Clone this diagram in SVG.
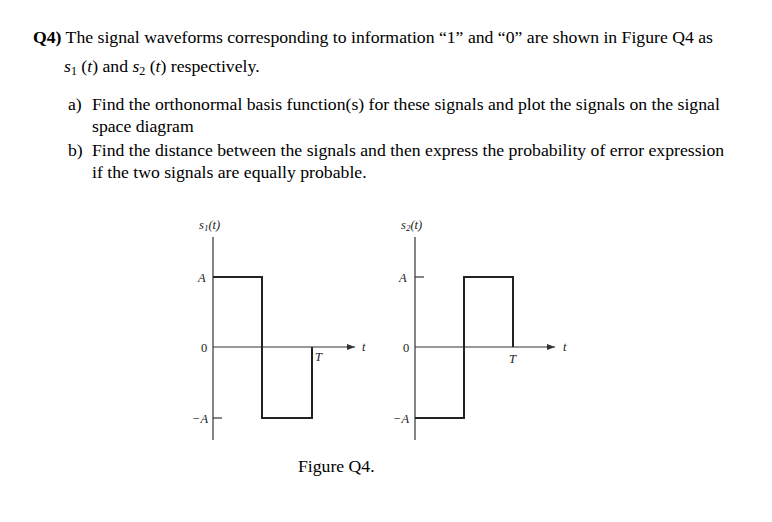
<svg xmlns="http://www.w3.org/2000/svg" width="772" height="522" viewBox="0 0 772 522">
<style>
.t{font-family:"Liberation Serif",serif;font-size:17.7px;fill:#000}
.s{font-family:"Liberation Serif",serif;font-size:12.5px;fill:#222}
.i{font-style:italic}
.ax{stroke:#333;stroke-width:1.2;fill:none}
.w{stroke:#222;stroke-width:2;fill:none}
</style>
<defs><marker id="ar" markerWidth="8" markerHeight="6" refX="8" refY="3" orient="auto" markerUnits="userSpaceOnUse"><path d="M0,0L8,3L0,6z" fill="#333"/></marker></defs>
<rect width="772" height="522" fill="#fff"/>
<g id="text">
<text class="t" x="33" y="43"><tspan font-weight="bold">Q4)</tspan> The signal waveforms corresponding to information “1” and “0” are shown in Figure Q4 as</text>
<text class="t" x="64" y="72"><tspan class="i">s</tspan><tspan font-size="12" dy="3">1</tspan><tspan dy="-3"> (</tspan><tspan class="i">t</tspan>) and <tspan class="i">s</tspan><tspan font-size="12" dy="3">2</tspan><tspan dy="-3"> (</tspan><tspan class="i">t</tspan>) respectively.</text>
<text class="t" x="68" y="110">a)</text>
<text class="t" x="92" y="110">Find the orthonormal basis function(s) for these signals and plot the signals on the signal</text>
<text class="t" x="92" y="132">space diagram</text>
<text class="t" x="68" y="156">b)</text>
<text class="t" x="92" y="156">Find the distance between the signals and then express the probability of error expression</text>
<text class="t" x="92" y="178">if the two signals are equally probable.</text>
<text class="t" x="298" y="472">Figure Q4.</text>
</g>
<g id="plot1">
<line class="ax" x1="213" y1="237" x2="213" y2="440"/>
<line class="ax" x1="213" y1="347" x2="355" y2="347" marker-end="url(#ar)"/>
<line class="ax" x1="213" y1="418" x2="222" y2="418"/>
<polyline class="w" points="213,277 262,277 262,418 312,418 312,347"/>
<text class="s i" x="199" y="229">s<tspan font-size="9" dy="2">1</tspan><tspan dy="-2">(t)</tspan></text>
<text class="s i" x="198" y="282">A</text>
<text class="s" x="201" y="352">0</text>
<text class="s i" x="192" y="423">−A</text>
<text class="s i" x="315" y="361">T</text>
<text class="s i" x="362" y="351">t</text>
</g>
<g id="plot2">
<line class="ax" x1="415" y1="237" x2="415" y2="440"/>
<line class="ax" x1="415" y1="347" x2="555" y2="347" marker-end="url(#ar)"/>
<line class="ax" x1="415" y1="277" x2="424" y2="277"/>
<polyline class="w" points="415,418 464,418 464,277 513,277 513,347"/>
<text class="s i" x="401" y="229">s<tspan font-size="9" dy="2">2</tspan><tspan dy="-2">(t)</tspan></text>
<text class="s i" x="399" y="282">A</text>
<text class="s" x="403" y="352">0</text>
<text class="s i" x="393" y="423">−A</text>
<text class="s i" x="509" y="363">T</text>
<text class="s i" x="563" y="351">t</text>
</g>
</svg>
